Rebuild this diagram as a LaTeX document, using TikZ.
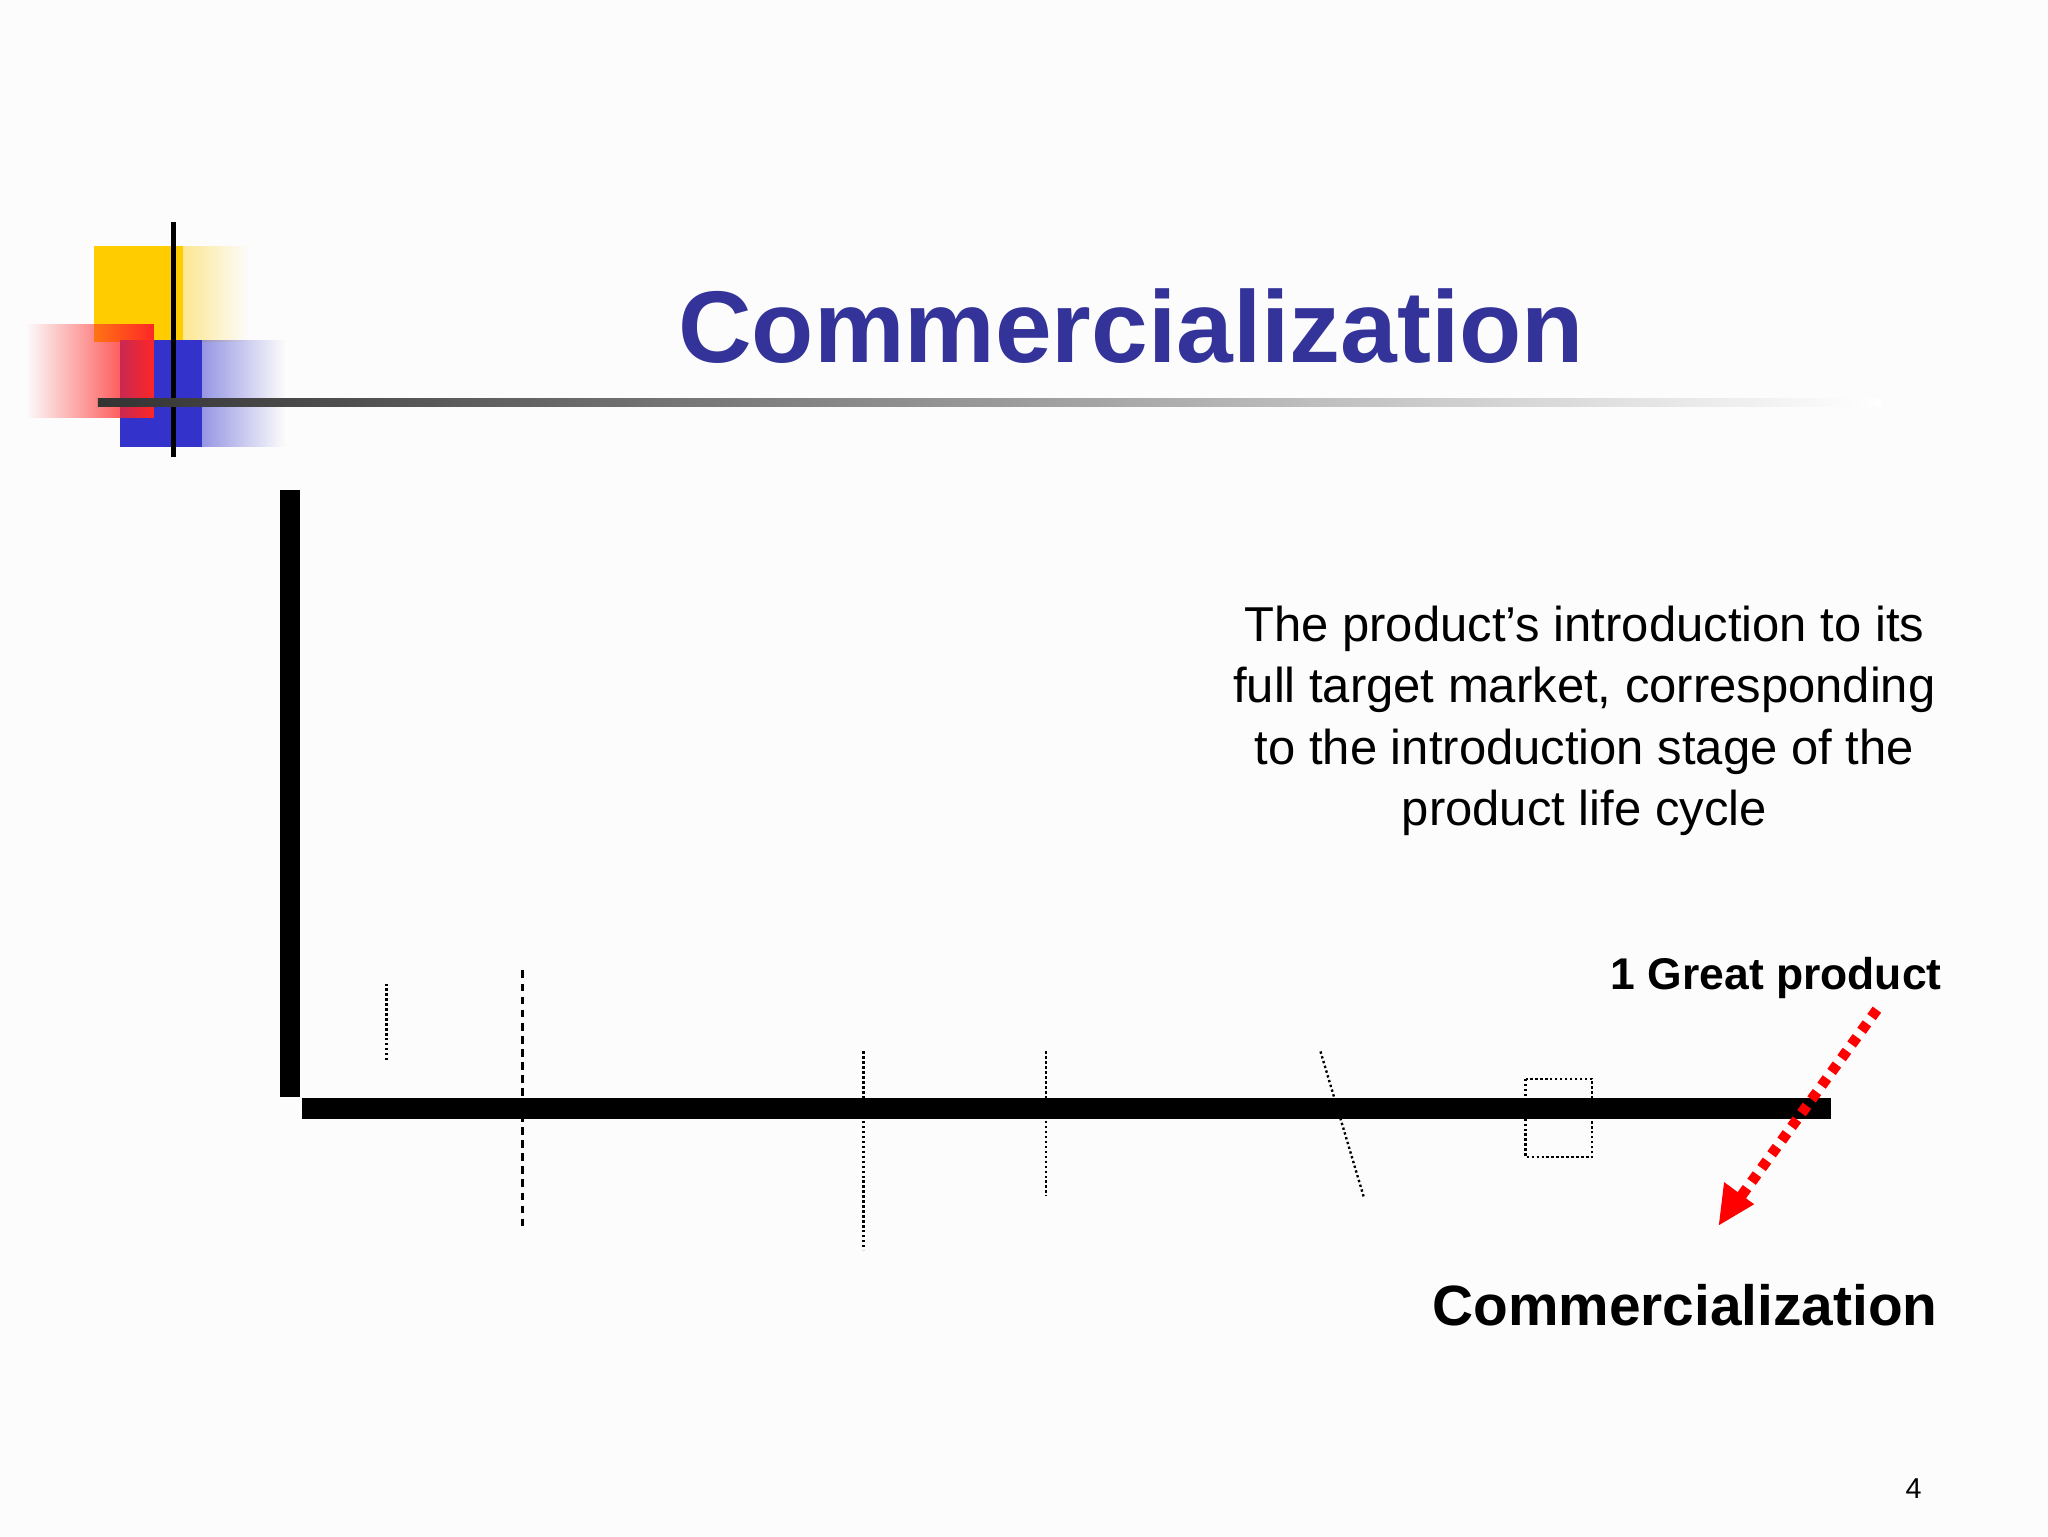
\documentclass[tikz,border=0pt]{standalone}
\usepackage{fontspec}
\setmainfont{Liberation Sans}
\usetikzlibrary{arrows.meta,fadings}
\definecolor{titleblue}{RGB}{51,51,153}
\definecolor{lyellow}{RGB}{255,204,0}
\definecolor{lblue}{RGB}{51,51,204}
\tikzset{axis/.style={line width=16pt},
 guide/.style={line width=1.8pt,dotted},
 body/.style={font=\fontsize{37.5}{47}\selectfont,align=center}}
\begin{document}
\begin{tikzpicture}[x=1pt,y=-1pt]
\fill[white!99!black] (0,0) rectangle (1568,1176);
\useasboundingbox (0,0) rectangle (1568,1176);
% logo
\fill[lyellow,path fading=east] (72,188) rectangle (190,262);
\fill[lyellow] (72,188) rectangle (140,262);
\fill[lblue,path fading=east] (92,260) rectangle (218,342);
\fill[lblue] (92,260) rectangle (155,342);
\fill[red!85!white,path fading=west] (20,248) rectangle (118,320);
\draw[line width=3.5pt] (133,170) -- (133,350);
\shade[left color=black!80,right color=white] (75,305) rectangle (1440,311);
\node[font=\bfseries\fontsize{78}{90}\selectfont,text=titleblue] (title) at (866,250) {Commercialization};
% axes
\coordinate (top) at (222,375); \coordinate (corner) at (222,840);
\draw[axis] (top) -- (corner);
\coordinate (h0) at (231,849); \coordinate (h1) at (1402,849);
\draw[axis] (h0) -- (h1);
% guides
\draw[guide] (296,753) -- (296,813);
\draw[line width=1.6pt,dash pattern=on 6pt off 4pt] (400,743) -- (400,942);
\draw[guide] (661,805) -- (661,957);
\draw[guide] (801,805) -- (801,916);
\draw[guide] (1011,805) -- (1044,916);
\draw[guide] (1168,826) rectangle (1219,886);
% texts
\node[body] (desc) at (1213,552) {The product’s introduction to its\\full target market, corresponding\\to the introduction stage of the\\product life cycle};
\node[font=\bfseries\fontsize{34}{40}\selectfont,anchor=east] (great) at (1490,749) {1 Great product};
\coordinate (a0) at (1437,773); \coordinate (a1) at (1330,920);
\draw[red,line width=8pt,dash pattern=on 7pt off 6pt] (a0) -- (a1);
\fill[red] (1316,938) -- (1320,905) -- (1343,922) -- cycle;
\node[font=\bfseries\fontsize{43.5}{50}\selectfont,anchor=east] (comm) at (1487,999) {Commercialization};
\node[font=\fontsize{22}{26}\selectfont] (pg) at (1465,1140) {4};
\end{tikzpicture}
\end{document}
